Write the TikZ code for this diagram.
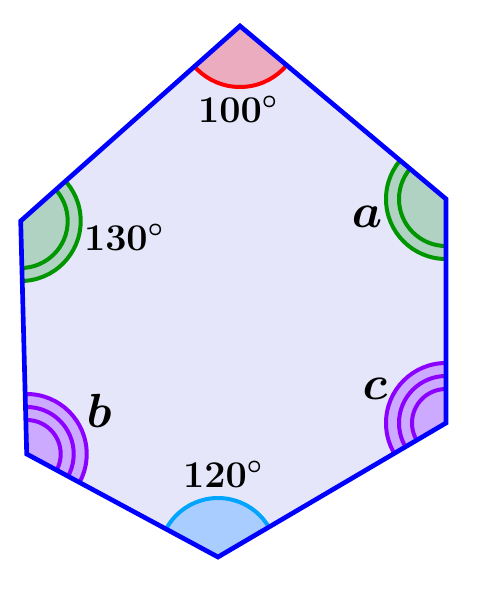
\documentclass[tikz,border=0pt]{standalone}
\usepackage{amsmath,bm,graphicx}
\definecolor{hexblue}{RGB}{0,0,255}
\definecolor{hexfill}{RGB}{230,230,250}
\definecolor{pinkfill}{RGB}{234,172,190}
\definecolor{redarc}{RGB}{255,0,0}
\definecolor{greenfill}{RGB}{176,210,195}
\definecolor{greenarc}{RGB}{0,150,0}
\definecolor{purplefill}{RGB}{204,170,255}
\definecolor{purplearc}{RGB}{140,0,255}
\definecolor{bluefill}{RGB}{170,205,255}
\definecolor{bluearc}{RGB}{0,165,255}
\newcommand{\deglbl}[1]{\scalebox{1.64}{\LARGE\boldmath$#1^\circ$}}
\newcommand{\varlbl}[1]{\scalebox{2.08}{\LARGE\boldmath$#1$}}
\begin{document}
\begin{tikzpicture}[x=0.75pt,y=-0.75pt,
  hexline/.style={draw=hexblue,line width=3.5pt,line join=miter},
  arcline/.style={line width=3pt},
  lbl/.style={anchor=base,inner sep=0pt}]
\useasboundingbox (0,0) rectangle (480,589);
\fill[white] (0,0) rectangle (480,589);
\coordinate (T) at (240,26);
\coordinate (UR) at (446,199);
\coordinate (LR) at (446,423);
\coordinate (B) at (218,557);
\coordinate (LL) at (26.7,454);
\coordinate (UL) at (20.7,221);
\fill[hexfill] (T)--(UR)--(LR)--(B)--(LL)--(UL)--cycle;
\begin{scope}
\clip (T)--(UR)--(LR)--(B)--(LL)--(UL)--cycle;
% top
\fill[pinkfill] (T) circle[radius=61];
\draw[arcline,redarc] (T) circle[radius=61];
% upper left
\fill[greenfill] (UL) circle[radius=60];
\draw[arcline,greenarc] (UL) circle[radius=60];
\draw[arcline,greenarc] (UL) circle[radius=47];
% upper right
\fill[greenfill] (UR) circle[radius=60];
\draw[arcline,greenarc] (UR) circle[radius=60];
\draw[arcline,greenarc] (UR) circle[radius=47];
% lower right
\fill[purplefill] (LR) circle[radius=60];
\draw[arcline,purplearc] (LR) circle[radius=60];
\draw[arcline,purplearc] (LR) circle[radius=47];
\draw[arcline,purplearc] (LR) circle[radius=34];
% lower left
\fill[purplefill] (LL) circle[radius=60];
\draw[arcline,purplearc] (LL) circle[radius=60];
\draw[arcline,purplearc] (LL) circle[radius=47];
\draw[arcline,purplearc] (LL) circle[radius=34];
% bottom
\fill[bluefill] (B) circle[radius=59];
\draw[arcline,bluearc] (B) circle[radius=59];
\end{scope}
\draw[hexline] (T)--(UR)--(LR)--(B)--(LL)--(UL)--cycle;
\node[lbl] (l100) at (238,122) {\deglbl{100}};
\node[lbl] (l130) at (124,250) {\deglbl{130}};
\node[lbl] (la) at (367,227) {\varlbl{a}};
\node[lbl] (lc) at (375,399) {\varlbl{c}};
\node[lbl] (lb) at (99,427) {\varlbl{b}};
\node[lbl] (l120) at (223,487) {\deglbl{120}};
\end{tikzpicture}
\end{document}
